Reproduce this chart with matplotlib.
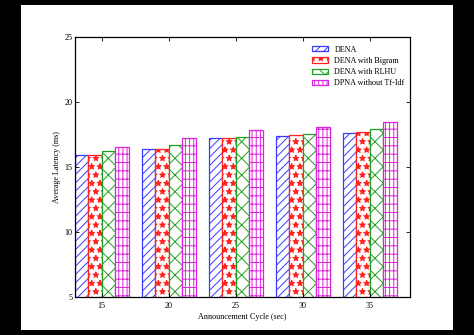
import matplotlib
matplotlib.use("Agg")
import matplotlib.pyplot as plt
from matplotlib.patches import Rectangle
import numpy as np

# 数据
cycles = ["15", "20", "25", "30", "35"]
series_names = ["DENA", "DENA with Bigram", "DENA with RLHU", "DPNA without Tf-Idf"]
dena = [15.93, 16.36, 17.20, 17.42, 17.62]
dena_bigram = [15.95, 16.40, 17.25, 17.47, 17.72]
dena_rlhu = [16.26, 16.67, 17.30, 17.52, 17.93]
dpna_no_tfidf = [16.57, 17.24, 17.83, 18.08, 18.47]
yticks = [5, 10, 15, 20, 25]

plt.rcParams['font.family'] = ['Liberation Serif', 'DejaVu Serif']
plt.rcParams['hatch.linewidth'] = 0.7

fig = plt.figure(figsize=(4.74, 3.35), dpi=100, facecolor='black')
# 白色画布区域
fig.add_artist(Rectangle((21 / 474, 5 / 335), 432 / 474, 325 / 335,
                         transform=fig.transFigure, facecolor='white',
                         edgecolor='none', zorder=-10))

ax = fig.add_axes([75 / 474, 38 / 335, 335 / 474, 260 / 335])

x = np.arange(1, len(cycles) + 1)
w = 0.2
values = [dena, dena_bigram, dena_rlhu, dpna_no_tfidf]
colors = ['#3a3aff', '#ff2020', '#20a020', '#dd22dd']
hatches = ['////', '**', 'xx', '++||']

for i, (vals, c, h, name) in enumerate(zip(values, colors, hatches, series_names)):
    ax.bar(x - 0.3 + i * w, vals, w, bottom=0, facecolor='white', edgecolor=c,
           hatch=h, linewidth=0.9, label=name)

ax.set_xlim(0.6, 5.6)
ax.set_ylim(5, 25)
ax.set_xticks(x)
ax.set_xticklabels(cycles)
ax.set_yticks(yticks)
ax.tick_params(direction='in', top=True, right=True, labelsize=5.9,
               length=3, width=0.6)
ax.tick_params(axis='x', pad=3.5)
ax.tick_params(axis='y', pad=2)
for s in ax.spines.values():
    s.set_linewidth(0.9)

ax.set_xlabel('Announcement Cycle (sec)', fontsize=5.9, labelpad=2.5)
ax.set_ylabel('Average Latency (ms)', fontsize=5.9, labelpad=2)

ax.legend(loc='upper left', bbox_to_anchor=(0.707, 0.967), frameon=False,
          fontsize=5.9, handlelength=2.0, handleheight=0.6,
          labelspacing=0.4, handletextpad=0.75, borderpad=0, borderaxespad=0)

fig.savefig('out.png', dpi=100, facecolor='black')
